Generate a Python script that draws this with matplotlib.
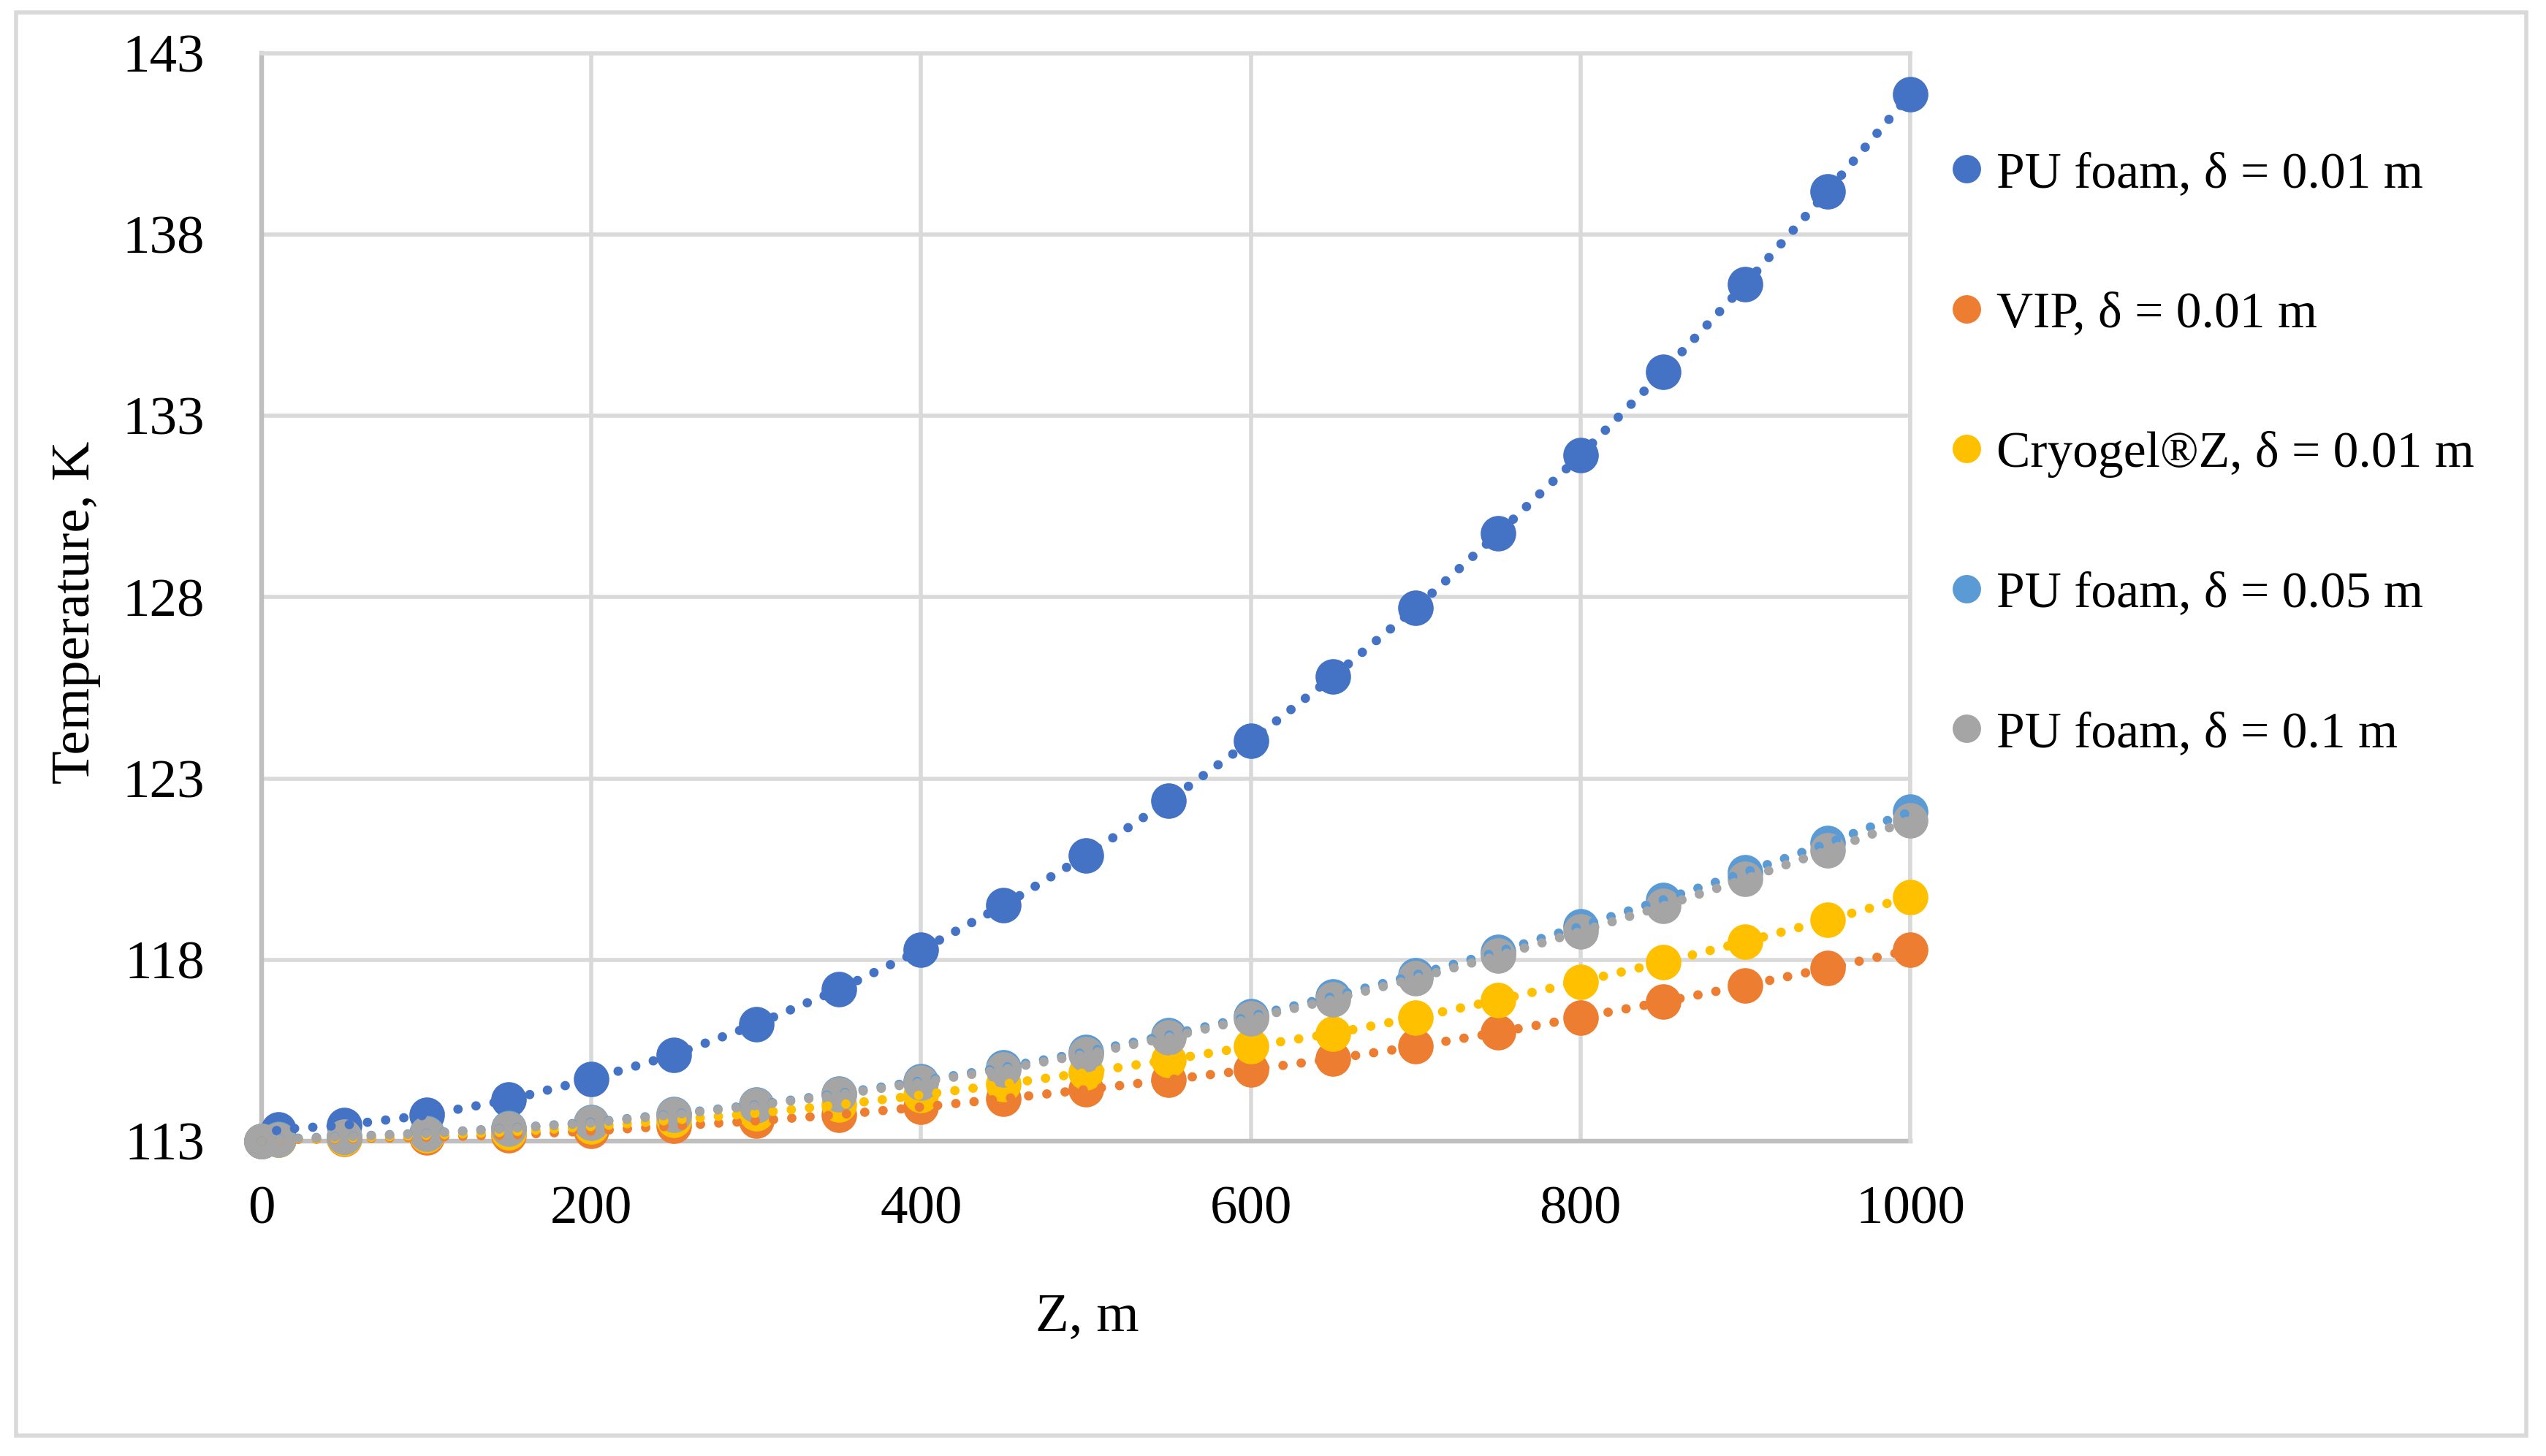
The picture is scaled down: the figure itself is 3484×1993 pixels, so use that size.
import matplotlib
matplotlib.use("Agg")
import matplotlib.pyplot as plt
from matplotlib.lines import Line2D
from matplotlib.patches import Rectangle

# ---- data ----
z_m = [0, 10, 50, 100, 150, 200, 250, 300, 350, 400, 450, 500,
       550, 600, 650, 700, 750, 800, 850, 900, 950, 1000]

pu_foam_001 = [113.0, 113.32, 113.44, 113.72, 114.14, 114.71, 115.38, 116.22, 117.18, 118.27, 119.50, 120.87,
               122.38, 124.03, 125.81, 127.70, 129.75, 131.91, 134.20, 136.63, 139.19, 141.86]
vip_001 = [113.0, 113.04, 113.06, 113.11, 113.17, 113.28, 113.42, 113.56, 113.73, 113.94, 114.17, 114.42,
           114.69, 114.97, 115.27, 115.61, 116.00, 116.41, 116.84, 117.29, 117.77, 118.27]
cryogel_001 = [113.0, 113.05, 113.08, 113.16, 113.25, 113.40, 113.58, 113.77, 114.00, 114.27, 114.57, 114.89,
               115.24, 115.61, 115.97, 116.41, 116.89, 117.40, 117.93, 118.50, 119.10, 119.73]
pu_foam_005 = [113.0, 113.06, 113.13, 113.22, 113.36, 113.52, 113.75, 114.00, 114.31, 114.66, 115.03, 115.46,
               115.92, 116.44, 116.99, 117.58, 118.22, 118.92, 119.65, 120.41, 121.21, 122.08]
pu_foam_01 = [113.0, 113.05, 113.12, 113.21, 113.35, 113.50, 113.73, 113.98, 114.28, 114.62, 114.98, 115.40,
              115.86, 116.38, 116.91, 117.49, 118.11, 118.78, 119.48, 120.23, 121.02, 121.85]

labels = ["PU foam, δ = 0.01 m", "VIP, δ = 0.01 m", "Cryogel®Z, δ = 0.01 m",
          "PU foam, δ = 0.05 m", "PU foam, δ = 0.1 m"]
colors = ["#4472C4", "#ED7D31", "#FFC000", "#5B9BD5", "#A5A5A5"]
series = [pu_foam_001, vip_001, cryogel_001, pu_foam_005, pu_foam_01]

x_ticks = [0, 200, 400, 600, 800, 1000]
y_ticks = [113, 118, 123, 128, 133, 138, 143]

# ---- figure ----
W, H, DPI = 3484, 1993, 200
plt.rcParams["font.family"] = ["Liberation Serif", "DejaVu Serif"]
fig = plt.figure(figsize=(W / DPI, H / DPI), dpi=DPI)

def fx(px):
    return px / W

def fy(py):
    return 1 - py / H

left, right, top, bottom = 358, 2614, 72.5, 1562
ax = fig.add_axes([fx(left), fy(bottom), fx(right) - fx(left), fy(top) - fy(bottom)])

ax.set_xlim(0, 1000)
ax.set_ylim(113, 143)
ax.set_xticks(x_ticks)
ax.set_yticks(y_ticks)
ax.set_xticklabels([str(v) for v in x_ticks])
ax.set_yticklabels([str(v) for v in y_ticks])
ax.tick_params(axis="both", length=0, labelsize=27, colors="black")
ax.tick_params(axis="x", pad=22)
ax.tick_params(axis="y", pad=28)

ax.grid(True, color="#D9D9D9", linewidth=2.0, zorder=0)
ax.set_axisbelow(True)
for s in ["top", "right"]:
    ax.spines[s].set_color("#D9D9D9")
    ax.spines[s].set_linewidth(2.0)
for s in ["left", "bottom"]:
    ax.spines[s].set_color("#BFBFBF")
    ax.spines[s].set_linewidth(2.3)
    ax.spines[s].set_zorder(1.5)

# markers
for vals, c in zip(series, colors):
    ax.plot(z_m, vals, linestyle="none", marker="o", markersize=17.5,
            markerfacecolor=c, markeredgecolor=c, markeredgewidth=0,
            zorder=3, clip_on=False)

# dotted trend lines on top
for vals, c in zip(series, colors):
    ax.plot(z_m, vals, color=c, linewidth=4.6, linestyle=(0, (0.01, 1.95)),
            dash_capstyle="round", solid_capstyle="round", zorder=4, clip_on=False)

# axis titles
fig.text(fx(1488), fy(1822), "Z, m", fontsize=27, ha="center", va="baseline")
fig.text(fx(104), fy(838), "Temperature, K", fontsize=27, rotation=90,
         ha="center", va="center")

# legend
handles = [Line2D([0], [0], linestyle="none", marker="o", markersize=14,
                  markerfacecolor=c, markeredgewidth=0) for c in colors]
fig.legend(handles, labels, loc="upper left",
           bbox_to_anchor=(fx(2663), fy(207)), frameon=False, fontsize=25,
           handlelength=0.8, handletextpad=0.2, labelspacing=1.84,
           borderpad=0, borderaxespad=0)

# outer chart border
fig.patches.append(Rectangle((fx(22), fy(1965)), fx(3457) - fx(22), fy(17) - fy(1965),
                             transform=fig.transFigure, fill=False,
                             edgecolor="#D9D9D9", linewidth=2.0))

fig.savefig("out.png", dpi=DPI, facecolor="white")
